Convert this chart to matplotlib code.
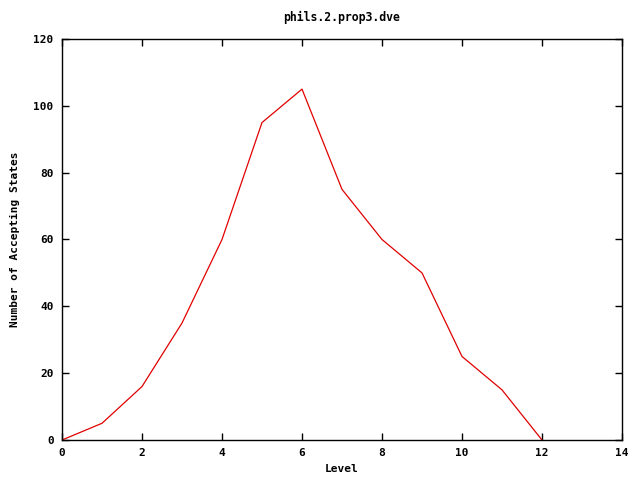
import matplotlib
matplotlib.use("Agg")
import matplotlib.pyplot as plt

# Level vs number of accepting states
levels = [0, 1, 2, 3, 4, 5, 6, 7, 8, 9, 10, 11, 12]
accepting = [0, 5, 16, 35, 60, 95, 105, 75, 60, 50, 25, 15, 0]

xticks = [0, 2, 4, 6, 8, 10, 12, 14]
yticks = [0, 20, 40, 60, 80, 100, 120]

plt.rcParams["font.family"] = "DejaVu Sans Mono"
plt.rcParams["font.weight"] = "bold"
plt.rcParams["font.size"] = 8

fig = plt.figure(figsize=(6.4, 4.8), dpi=100)
ax = fig.add_axes([62 / 640, 1 - 440 / 480, 560 / 640, 401 / 480])

ax.plot(levels, accepting, color="#e00000", linewidth=0.9)

ax.set_xlim(0, 14)
ax.set_ylim(0, 120)
ax.set_xticks(xticks)
ax.set_yticks(yticks)
ax.tick_params(direction="in", top=True, right=True, length=5, width=1, pad=6)
for s in ax.spines.values():
    s.set_linewidth(1)

ax.set_xlabel("Level", fontweight="bold", labelpad=4)
ax.set_ylabel("Number of Accepting States", fontweight="bold", labelpad=10)
ax.set_title("phils.2.prop3.dve", fontweight="bold", fontsize=8.3, pad=13)

fig.savefig("out.png", dpi=100)
